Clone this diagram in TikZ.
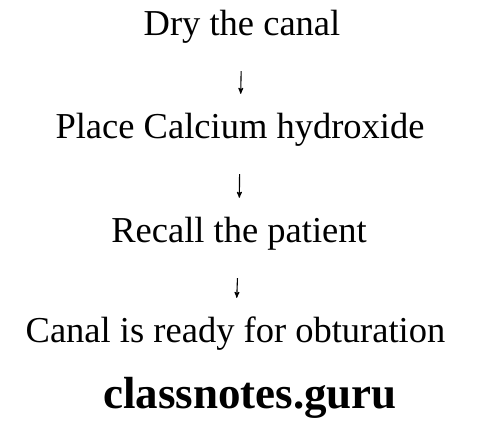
\documentclass[tikz,border=0pt]{standalone}
\usepackage{fontspec}
\setmainfont{Liberation Serif}
\usepackage{tikz}
\usetikzlibrary{arrows}
\tikzstyle{arrow} = [line width=1.1pt,->,>=stealth',shorten <=26pt,shorten >=18pt]

\begin{document}
\begin{tikzpicture}
   \tikzset{stepbox/.style= {inner sep=0pt, align=center, text height=27pt, text depth=9pt, font=\fontsize{36.5}{40}\selectfont},
   site/.style={inner sep=0pt, text height=27pt, text depth=9pt, font=\fontsize{45}{50}\selectfont\bfseries},
   node distance=103pt
   }
 \useasboundingbox (0,0) rectangle (477pt,-438pt);

 \node [stepbox] (dry) at (242pt,-27pt) {Dry the canal};
 \node [stepbox, below of= dry, xshift=-2pt] (place) {Place Calcium hydroxide};
 \node [stepbox, below of= place, xshift=-1pt, yshift=-1pt] (recall) {Recall the patient};
 \node [stepbox, below of= recall, xshift=-3.5pt, yshift=3pt] (ready) {Canal is ready for obturation};

 \node [site, below of= ready, xshift=14.5pt, yshift=37pt] (guru) {classnotes.guru};

 \draw [arrow] (dry) -- (place);
 \draw [arrow] (place) -- (recall);
 \draw [arrow] (recall) -- (ready);
\end{tikzpicture}
\end{document}
